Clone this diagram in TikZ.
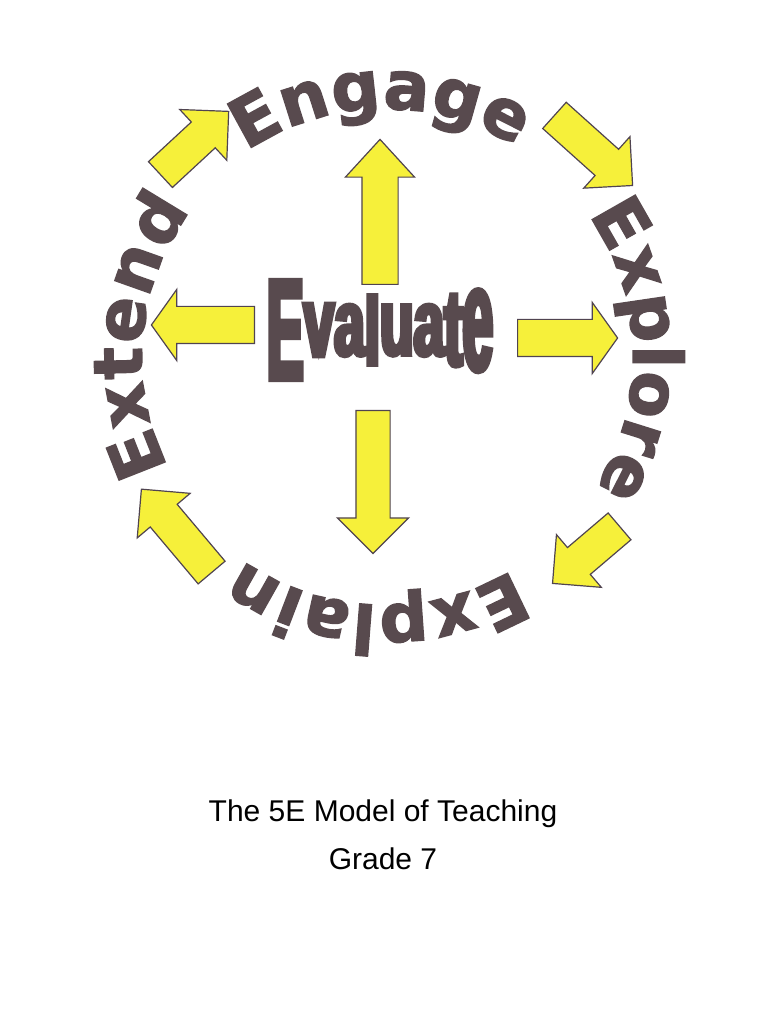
\documentclass[tikz,border=0pt]{standalone}
\usepackage{fontspec}
\usepackage{graphicx}
\setmainfont{Liberation Sans}
\newfontfamily\ringfont{DejaVu Sans}[BoldFeatures={FakeBold=2}]
\newfontfamily\evalfont{Liberation Sans}[FakeStretch=0.5,BoldFeatures={FakeBold=4}]
\usetikzlibrary{shapes.arrows,decorations.text}
\definecolor{yfill}{RGB}{246,240,58}
\definecolor{aline}{RGB}{80,68,80}
\definecolor{tcol}{RGB}{88,74,78}
\newcommand\evl[2]{\raisebox{-0.5\height}{\scalebox{1}[#1]{#2}}}
\tikzset{
  yarrow/.style={single arrow, draw=aline, fill=yfill, line width=1.2pt,
    inner xsep=0pt, inner ysep=17pt, minimum width=0pt,
    single arrow head indent=0pt, single arrow head extend=17pt},
  ringtext/.style={decorate, decoration={text along path, text align={fit to path},
    text={|\ringfont\bfseries\fontsize{68}{68}\selectfont\color{tcol}|#1}}},
  titletext/.style={anchor=base, inner sep=0pt, font=\fontsize{30}{36}\selectfont}
}
\begin{document}
\begin{tikzpicture}[x=1pt,y=1pt]
\fill[white] (0,0) rectangle (768,1024);
\useasboundingbox (0,0) rectangle (768,1024);
\coordinate (C) at (385,667);

% ring words
\path[ringtext=Engage] (C) ++(124:248) arc[start angle=124, end angle=58, radius=248];
\path[ringtext=Explore] (C) ++(35:248) arc[start angle=35, end angle=-32, radius=248];
\path[ringtext=Explain] (C) ++(-59:248) arc[start angle=-59, end angle=-125, radius=248];
\path[ringtext=Extend] (C) ++(207:243) arc[start angle=207, end angle=143, radius=243];

% ring arrows
\node[yarrow, minimum height=93pt, rotate=42.8, anchor=tail] (a1) at (160,849) {};
\node[yarrow, minimum height=105pt, rotate=-41.9, anchor=tail] (a2) at (554,909) {};
\node[yarrow, minimum height=88pt, rotate=220.4, anchor=tail] (a3) at (620,498) {};
\node[yarrow, minimum height=109pt, rotate=130.1, anchor=tail] (a4) at (212,451) {};

% centre
\node[inner sep=0pt, text=tcol] (eval) at (380,694)
  {\evalfont\bfseries\fontsize{110}{110}\selectfont
   \evl{1.3}{E}\evl{0.91}{v}\evl{0.86}{a}\evl{0.875}{l}\evl{0.86}{u}\evl{0.86}{a}\evl{0.99}{t}\evl{1.35}{e}};

\node[yarrow, minimum height=145pt, inner ysep=17.5pt, single arrow head extend=16.5pt,
      single arrow tip angle=85, rotate=90, anchor=tail] (up) at (380,739) {};
\node[yarrow, minimum height=103pt, inner ysep=18pt, single arrow head extend=17pt,
      single arrow tip angle=109, rotate=180, anchor=tail] (left) at (255,699) {};
\node[yarrow, minimum height=100pt, inner ysep=18pt, single arrow head extend=17pt,
      single arrow tip angle=109, rotate=0, anchor=tail] (right) at (517,686) {};
\node[yarrow, minimum height=143pt, inner ysep=16.5pt, single arrow head extend=18.5pt,
      single arrow tip angle=90, rotate=-90, anchor=tail] (down) at (373,614) {};

% title
\node[titletext] (title) at (383,202) {The 5E Model of Teaching};
\node[titletext] (grade) at (383,154) {Grade 7};
\end{tikzpicture}
\end{document}
